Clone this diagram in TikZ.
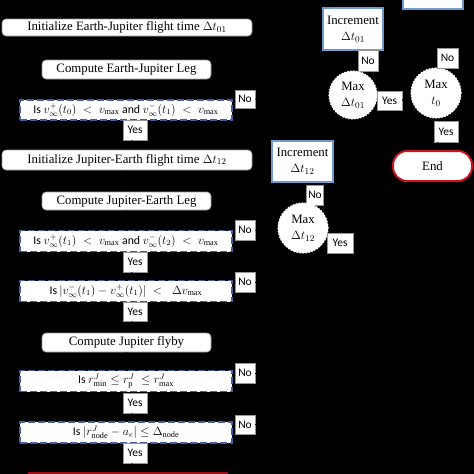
\documentclass[tikz,border=0pt]{standalone}
\usepackage{fontspec}
\setmainfont{Liberation Serif}
\newfontfamily\calib{Carlito}
\usetikzlibrary{arrows.meta}
\definecolor{decblue}{RGB}{72,92,160}
\definecolor{incblue}{RGB}{110,155,205}
\definecolor{endred}{RGB}{200,20,30}
\definecolor{procgray}{RGB}{150,150,150}
\tikzset{
  procbox/.style={draw=procgray, line width=0.6pt, fill=white, rounded corners=4pt, inner sep=0pt, font=\fontsize{12.8}{14}\selectfont},
  decbox/.style={draw=decblue, line width=1.4pt, dash pattern=on 7pt off 3pt, fill=white, inner sep=0pt, font=\calib\fontsize{11.8}{13}\selectfont},
  yn/.style={draw=procgray, line width=0.4pt, fill=white, inner sep=0pt, font=\calib\fontsize{11.5}{13}\selectfont},
  incbox/.style={draw=incblue, line width=1.5pt, fill=white, inner sep=0pt, align=center, font=\fontsize{12.8}{16}\selectfont},
  maxcirc/.style={circle, fill=white, draw=white, line width=1.2pt, dash pattern=on 1.5pt off 1.5pt, inner sep=0pt, align=center, font=\fontsize{12.8}{16}\selectfont},
  endbox/.style={draw=endred, line width=2pt, fill=white, rounded corners=14pt, inner sep=0pt, font=\fontsize{12.8}{14}\selectfont},
  conn/.style={draw=black, line width=0.8pt, -{Stealth[length=4pt]}}
}
\begin{document}
\begin{tikzpicture}[x=1pt,y=-1pt]
\fill[black] (0,0) rectangle (474,474);
\useasboundingbox (0,0) rectangle (474,474);
\clip (0,0) rectangle (474,474);
% left column
\node[procbox, minimum width=250pt, minimum height=17pt] (init01) at (127,27.5) {Initialize Earth-Jupiter flight time $\Delta t_{01}$};
\node[procbox, minimum width=169pt, minimum height=19pt] (comp01) at (126.5,69.5) {Compute Earth-Jupiter Leg};
\node[decbox, minimum width=212pt, minimum height=20pt] (dec1) at (126,110) {Is $v_\infty^+(t_0)\;<\;v_{\max}$ and $v_\infty^-(t_1)\;<\;v_{\max}$};
\node[yn, minimum width=24pt, minimum height=20pt] (yes1) at (135,130) {Yes};
\node[yn, minimum width=20pt, minimum height=18pt] (no1) at (245,99) {No};
\node[procbox, minimum width=250pt, minimum height=20pt] (init12) at (127,160) {Initialize Jupiter-Earth flight time $\Delta t_{12}$};
\node[procbox, minimum width=169pt, minimum height=18pt] (comp12) at (126.5,201) {Compute Jupiter-Earth Leg};
\node[decbox, minimum width=212pt, minimum height=21pt] (dec2) at (126,241) {Is $v_\infty^+(t_1)\;<\;v_{\max}$ and $v_\infty^-(t_2)\;<\;v_{\max}$};
\node[yn, minimum width=24pt, minimum height=20pt] (yes2) at (135,262) {Yes};
\node[yn, minimum width=20pt, minimum height=20pt] (no2) at (245,230) {No};
\node[decbox, minimum width=212pt, minimum height=21pt] (dec3) at (126,291) {Is\,$|v_\infty^-(t_1)-v_\infty^+(t_1)|\;<\;\;\Delta v_{\max}$};
\node[yn, minimum width=24pt, minimum height=19pt] (yes3) at (135,311.5) {Yes};
\node[yn, minimum width=20pt, minimum height=20pt] (no3) at (245,282) {No};
\node[procbox, minimum width=169pt, minimum height=19pt] (flyby) at (126.5,342.5) {Compute Jupiter flyby};
\node[decbox, minimum width=212pt, minimum height=21pt] (dec4) at (126,381) {Is $r^J_{\min}\le r^J_{\mathrm{p}}\;\le r^J_{\max}$};
\node[yn, minimum width=24pt, minimum height=20pt] (yes4) at (135,403) {Yes};
\node[yn, minimum width=20pt, minimum height=20pt] (no4) at (245,373) {No};
\node[decbox, minimum width=212pt, minimum height=21pt] (dec5) at (126,432.5) {Is $\bigl|r^J_{\mathrm{node}}-a_e\bigr|\le\Delta_{\mathrm{node}}$};
\node[yn, minimum width=24pt, minimum height=20pt] (yes5) at (135,453) {Yes};
\node[yn, minimum width=20pt, minimum height=19pt] (no5) at (245,424.5) {No};
\node[draw=endred!80!black, line width=1pt, fill=endred!75!black, minimum width=199pt, minimum height=20pt, inner sep=0pt] (last) at (127.5,482) {};
% right part
\node[incbox, minimum width=60pt, minimum height=42pt] (inc01) at (353,29) {Increment\\$\Delta t_{01}$};
\node[yn, minimum width=20pt, minimum height=21pt] (noA) at (368,60.5) {No};
\node[maxcirc, minimum size=48pt] (maxA) at (353,95) {Max\\$\Delta t_{01}$};
\node[yn, minimum width=25pt, minimum height=19pt] (yesA) at (389.5,100.5) {Yes};
\node[maxcirc, minimum size=50pt] (maxT) at (436,93) {Max\\$t_0$};
\node[yn, minimum width=21pt, minimum height=20pt] (noB) at (447.5,58) {No};
\node[yn, minimum width=24pt, minimum height=21pt] (yesB) at (446,131.5) {Yes};
\node[incbox, minimum width=60pt, minimum height=40pt] (incT) at (433,-11) {};
\node[endbox, minimum width=79pt, minimum height=30pt] (end) at (432.5,166) {End};
\node[incbox, minimum width=61pt, minimum height=41pt] (inc12) at (302.5,161.5) {Increment\\$\Delta t_{12}$};
\node[yn, minimum width=17pt, minimum height=20pt] (noC) at (315,195) {No};
\node[maxcirc, minimum size=50pt] (maxC) at (303,228) {Max\\$\Delta t_{12}$};
\node[yn, minimum width=26pt, minimum height=20pt] (yesC) at (340,243) {Yes};
% connectors (black, as in the reference)
\draw[conn] (init01) -- (comp01);
\draw[conn] (comp01) -- (dec1);
\draw[conn] (yes1) -- (init12);
\draw[conn] (init12) -- (comp12);
\draw[conn] (comp12) -- (dec2);
\draw[conn] (yes2) -- (dec3);
\draw[conn] (yes3) -- (flyby);
\draw[conn] (flyby) -- (dec4);
\draw[conn] (yes4) -- (dec5);
\draw[conn] (yes5) -- (last);
\draw[conn] (no1.east) -- (maxA.west);
\draw[conn] (no2.east) -- (maxC.west);
\draw[conn] (no3.east) -| (maxC.south);
\draw[conn] (no4.east) -| (maxC.south);
\draw[conn] (no5.east) -| (maxC.south);
\draw[conn] (noA) -- (inc01.south);
\draw[conn] (inc01.west) -- ++(-20,0) |- (comp01.east);
\draw[conn] (yesA.east) -- (maxT.west);
\draw[conn] (noB) -- (incT.south);
\draw[conn] (yesB) -- (end.north);
\draw[conn] (noC) -- (inc12.south);
\draw[conn] (inc12.west) -- ++(-8,0) |- (comp12.east);
\draw[conn] (yesC.north) -- (maxA.south);
\end{tikzpicture}
\end{document}
